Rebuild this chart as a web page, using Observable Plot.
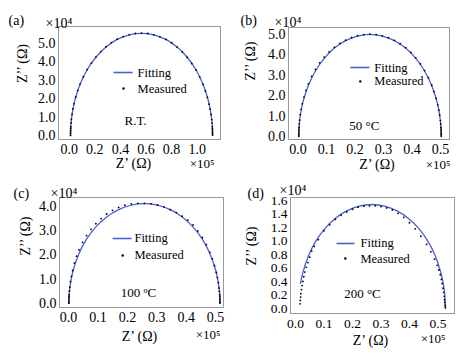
<!DOCTYPE html>
<html><head><meta charset="utf-8">
<script src="https://cdn.jsdelivr.net/npm/d3@7"></script>
<script src="https://cdn.jsdelivr.net/npm/@observablehq/plot@0.6"></script>
<style>
body{margin:0;background:#fff;width:474px;height:359px;overflow:hidden;position:relative;font-family:"Liberation Serif","Times New Roman",serif}
.panel{position:absolute}
</style></head><body>
<div id="pa" class="panel" style="left:0;top:0"></div>
<div id="pb" class="panel" style="left:237px;top:0"></div>
<div id="pc" class="panel" style="left:0;top:178px"></div>
<div id="pd" class="panel" style="left:237px;top:178px"></div>
<script>
// ---- data: [Z' (x10^5 Ω), Z'' (x10^4 Ω)] ----
const fitA = [[0.010,0],[0.0108,0.29],[0.013,0.58],[0.0184,0.96],[0.029,1.44],[0.0435,1.90],[0.0844,2.78],[0.140,3.57],[0.208,4.25],[0.2875,4.81],[0.375,5.22],[0.469,5.47],[0.565,5.55],[0.661,5.47],[0.755,5.22],[0.8425,4.81],[0.922,4.25],[0.990,3.57],[1.0456,2.78],[1.0865,1.90],[1.101,1.44],[1.1116,0.96],[1.117,0.58],[1.1192,0.29],[1.120,0]];
const measA = [[0.010,0.00],[0.0101,0.10],[0.0103,0.19],[0.0108,0.29],[0.0114,0.39],[0.0121,0.48],[0.0141,0.68],[0.0168,0.87],[0.0221,1.15],[0.0289,1.44],[0.0372,1.72],[0.0504,2.09],[0.0662,2.44],[0.0844,2.79],[0.1104,3.19],[0.1398,3.58],[0.1726,3.93],[0.2083,4.26],[0.2467,4.56],[0.2875,4.82],[0.33,5.04],[0.3752,5.23],[0.4214,5.37],[0.4686,5.47],[0.5166,5.54],[0.565,5.56],[0.6134,5.54],[0.6614,5.47],[0.7086,5.36],[0.7548,5.22],[0.80,5.03],[0.8425,4.80],[0.8833,4.54],[0.9217,4.24],[0.9574,3.91],[0.9902,3.56],[1.0196,3.17],[1.0456,2.77],[1.0638,2.42],[1.0796,2.07],[1.0928,1.70],[1.1011,1.43],[1.1079,1.14],[1.1132,0.86],[1.1159,0.67],[1.1179,0.48],[1.1186,0.38],[1.1192,0.29],[1.1197,0.19],[1.1199,0.10],[1.120,0.02]];

const fitB = [[0.003,0],[0.0033,0.26],[0.0044,0.52],[0.0068,0.87],[0.0115,1.29],[0.0181,1.71],[0.0365,2.50],[0.0615,3.21],[0.0923,3.83],[0.128,4.33],[0.1675,4.70],[0.2096,4.92],[0.253,5.00],[0.2964,4.92],[0.3385,4.70],[0.378,4.33],[0.4137,3.83],[0.4445,3.21],[0.4695,2.50],[0.4879,1.71],[0.4945,1.29],[0.4992,0.87],[0.5016,0.52],[0.5027,0.26],[0.503,0]];
const measB = [[0.003,0.02],[0.003,0.09],[0.0032,0.17],[0.0033,0.26],[0.0036,0.35],[0.0040,0.44],[0.0049,0.62],[0.0061,0.80],[0.0085,1.07],[0.0115,1.33],[0.0152,1.60],[0.0212,1.93],[0.0283,2.26],[0.0365,2.58],[0.0482,2.95],[0.0615,3.29],[0.0762,3.61],[0.0923,3.89],[0.1096,4.15],[0.128,4.37],[0.1473,4.56],[0.1675,4.72],[0.1883,4.85],[0.2096,4.94],[0.2312,4.99],[0.253,5.01],[0.2748,4.99],[0.2964,4.93],[0.3177,4.84],[0.3385,4.71],[0.3587,4.55],[0.378,4.35],[0.3964,4.12],[0.4137,3.85],[0.4298,3.56],[0.4445,3.23],[0.4578,2.88],[0.4695,2.51],[0.4777,2.20],[0.4848,1.87],[0.4908,1.55],[0.4945,1.29],[0.4975,1.04],[0.4999,0.78],[0.5011,0.61],[0.5020,0.44],[0.5024,0.35],[0.5027,0.26],[0.5028,0.17],[0.503,0.09],[0.503,0.02]];

const fitC = [[0.001,0],[0.0013,0.22],[0.0024,0.43],[0.0049,0.72],[0.0098,1.07],[0.0165,1.41],[0.0354,2.06],[0.0611,2.65],[0.0928,3.16],[0.1295,3.57],[0.1701,3.87],[0.2134,4.06],[0.258,4.12],[0.3026,4.06],[0.3459,3.87],[0.3865,3.57],[0.4232,3.16],[0.4549,2.65],[0.4806,2.06],[0.4995,1.41],[0.5062,1.07],[0.5111,0.72],[0.5136,0.43],[0.5147,0.22],[0.515,0]];
const measC = [[0.001,0.02],[0.001,0.07],[0.0012,0.14],[0.0014,0.22],[0.0016,0.29],[0.002,0.36],[0.0029,0.52],[0.0042,0.67],[0.0066,0.90],[0.0098,1.12],[0.0136,1.36],[0.0197,1.66],[0.027,1.95],[0.0354,2.21],[0.0475,2.52],[0.0611,2.80],[0.0763,3.06],[0.0928,3.29],[0.1106,3.50],[0.1295,3.69],[0.1494,3.84],[0.1701,3.96],[0.1915,4.05],[0.2134,4.11],[0.2356,4.13],[0.258,4.13],[0.2804,4.11],[0.3026,4.06],[0.3245,3.98],[0.3459,3.87],[0.3666,3.75],[0.3865,3.60],[0.4054,3.44],[0.4232,3.24],[0.4397,2.99],[0.4549,2.72],[0.4685,2.43],[0.4806,2.11],[0.489,1.84],[0.4963,1.56],[0.5024,1.28],[0.5062,1.07],[0.5094,0.86],[0.5118,0.64],[0.5131,0.50],[0.514,0.36],[0.5144,0.29],[0.5146,0.21],[0.5148,0.14],[0.515,0.07],[0.515,0.02]];

const fitD = [[0.0177,0.373],[0.0256,0.527],[0.0446,0.77],[0.0704,0.99],[0.1022,1.18],[0.139,1.334],[0.1798,1.447],[0.2232,1.517],[0.268,1.54],[0.3128,1.517],[0.3562,1.447],[0.397,1.334],[0.4338,1.18],[0.4656,0.99],[0.4914,0.77],[0.5104,0.527],[0.5172,0.399],[0.5221,0.267],[0.5246,0.161],[0.5256,0.081],[0.526,0]];
const measD = [[0.016,0.07],[0.017,0.12],[0.018,0.17],[0.019,0.22],[0.021,0.28],[0.023,0.34],[0.026,0.40],[0.029,0.47],[0.033,0.54],[0.038,0.61],[0.044,0.68],[0.050,0.76],[0.057,0.85],[0.066,0.92],[0.080,1.02],[0.100,1.15],[0.120,1.24],[0.140,1.32],[0.160,1.38],[0.180,1.43],[0.200,1.47],[0.220,1.50],[0.240,1.515],[0.260,1.52],[0.280,1.52],[0.300,1.51],[0.320,1.49],[0.340,1.46],[0.360,1.41],[0.380,1.35],[0.400,1.27],[0.420,1.18],[0.440,1.07],[0.460,0.95],[0.475,0.84],[0.488,0.73],[0.497,0.64],[0.503,0.57],[0.508,0.50],[0.512,0.43],[0.515,0.37],[0.518,0.30],[0.520,0.24],[0.522,0.18],[0.523,0.13],[0.524,0.09],[0.525,0.05],[0.526,0.02]];

// ---- ticks and labels ----
const xTicksA = [0, 0.2, 0.4, 0.6, 0.8, 1.0];
const xTicksBCD = [0, 0.1, 0.2, 0.3, 0.4, 0.5];
const yTicksA = [0, 1, 2, 3, 4, 5];
const yTicksB = [0, 1, 2, 3, 4, 5];
const yTicksC = [0, 1, 2, 3, 4];
const yTicksD = [0, 0.2, 0.4, 0.6, 0.8, 1.0, 1.2, 1.4, 1.6];
const panelLetters = ["(a)", "(b)", "(c)", "(d)"];
const conditions = ["R.T.", "50 °C", "100 ºC", "200 °C"];
const seriesNames = ["Fitting", "Measured"];
const xLabel = "Z’ (Ω)";
const yLabel = "Z’’ (Ω)";
const yExp = "×10⁴";
const xExp = "×10⁵";

const BLUE = "#4a5ed6";
const FONT = "Liberation Serif";
const fmt = d3.format(".1f");

function panel(p) {
  const L = p.layout;
  const svg = Plot.plot({
    width: 237, height: L.h,
    marginLeft: L.ml, marginRight: L.mr, marginTop: L.mt, marginBottom: L.mb,
    style: {fontSize: L.tick + "px", color: "#000", background: "transparent", overflow: "visible"},
    x: {domain: L.xd, ticks: p.xt, tickFormat: fmt, tickSize: 0, tickPadding: 5, label: null},
    y: {domain: L.yd, ticks: p.yt, tickFormat: fmt, tickSize: 0, tickPadding: 3, label: null},
    marks: [
      Plot.frame({stroke: "#999"}),
      Plot.line(p.fit, {x: d => d[0], y: d => d[1], stroke: BLUE, strokeWidth: 1.3, curve: "catmull-rom"}),
      Plot.dot(p.meas, {x: d => d[0], y: d => d[1], r: 0.9, fill: "#000"}),
      Plot.link([L.leg], {x1: "x1", x2: "x2", y1: "y1", y2: "y1", stroke: BLUE, strokeWidth: 1.6}),
      Plot.dot([L.leg], {x: "xd", y: "y2", r: 1.2, fill: "#000"}),
      Plot.text([L.leg], {x: "xt", y: "y1", text: () => seriesNames[0], textAnchor: "start", fontSize: 12.5}),
      Plot.text([L.leg], {x: "xt", y: "y2", text: () => seriesNames[1], textAnchor: "start", fontSize: 12.5}),
      Plot.text([L.cond], {x: "x", y: "y", text: () => p.cond, fontSize: 13}),
      Plot.text([yExp], {text: d => d, frameAnchor: "top-left", textAnchor: "start", fontSize: 14, dx: L.o.ye[0], dy: L.o.ye[1]}),
      Plot.text([xExp], {text: d => d, frameAnchor: "bottom-right", textAnchor: "end", fontSize: 13, dx: L.o.xe[0], dy: L.o.xe[1]}),
      Plot.text([xLabel], {text: d => d, frameAnchor: "bottom", fontSize: 14, dx: L.o.xl[0], dy: L.o.xl[1]}),
      Plot.text([yLabel], {text: d => d, frameAnchor: "left", rotate: -90, fontSize: 14, dx: L.o.yl[0], dy: L.o.yl[1]}),
      Plot.text([p.letter], {text: d => d, frameAnchor: "top-left", textAnchor: "start", fontSize: 14, dx: L.o.lt[0], dy: L.o.lt[1]})
    ]
  });
  svg.setAttribute("font-family", FONT);
  svg.querySelectorAll("g, text").forEach(el => {
    if (el.hasAttribute("font-family")) el.setAttribute("font-family", FONT);
  });
  return svg;
}

const layouts = {
  a: {h: 180, ml: 58, mr: 17, mt: 26, mb: 41, tick: 14, xd: [-0.084, 1.182], yd: [-0.22, 5.92],
      leg: {x1: 0.346, x2: 0.495, xd: 0.424, xt: 0.534, y1: 3.42, y2: 2.55}, cond: {x: 0.518, y: 0.815},
      o: {ye: [-13, -8], xe: [-6, 28], xl: [-6, 28], yl: [-36, 0], lt: [-50, -11]}},
  b: {h: 180, ml: 51, mr: 25, mt: 27, mb: 41, tick: 14, xd: [-0.033, 0.532], yd: [-0.147, 5.34],
      leg: {x1: 0.184, x2: 0.251, xd: 0.219, xt: 0.268, y1: 3.38, y2: 2.70}, cond: {x: 0.233, y: 0.54},
      o: {ye: [-14, -10], xe: [1, 29], xl: [8, 29], yl: [-38, -3], lt: [-48, -12]}},
  c: {h: 181, ml: 59, mr: 14, mt: 19, mb: 52, tick: 14, xd: [-0.031, 0.527], yd: [-0.165, 4.37],
      leg: {x1: 0.150, x2: 0.214, xd: 0.184, xt: 0.224, y1: 2.68, y2: 1.98}, cond: {x: 0.238, y: 0.45},
      o: {ye: [-9, -9], xe: [-3, 31], xl: [-2, 33], yl: [-34, 3], lt: [-46, -9]}},
  d: {h: 181, ml: 53, mr: 20, mt: 19, mb: 46, tick: 13.5, xd: [-0.0175, 0.558], yd: [-0.074, 1.644],
      leg: {x1: 0.144, x2: 0.207, xd: 0.175, xt: 0.228, y1: 0.963, y2: 0.74}, cond: {x: 0.235, y: 0.22},
      o: {ye: [-11, -12], xe: [-9, 29], xl: [-2, 31], yl: [-39, 10], lt: [-43, -9]}}
};

document.getElementById("pa").append(panel({layout: layouts.a, fit: fitA, meas: measA, xt: xTicksA, yt: yTicksA, cond: conditions[0], letter: panelLetters[0]}));
document.getElementById("pb").append(panel({layout: layouts.b, fit: fitB, meas: measB, xt: xTicksBCD, yt: yTicksB, cond: conditions[1], letter: panelLetters[1]}));
document.getElementById("pc").append(panel({layout: layouts.c, fit: fitC, meas: measC, xt: xTicksBCD, yt: yTicksC, cond: conditions[2], letter: panelLetters[2]}));
document.getElementById("pd").append(panel({layout: layouts.d, fit: fitD, meas: measD, xt: xTicksBCD, yt: yTicksD, cond: conditions[3], letter: panelLetters[3]}));
</script>
</body></html>
